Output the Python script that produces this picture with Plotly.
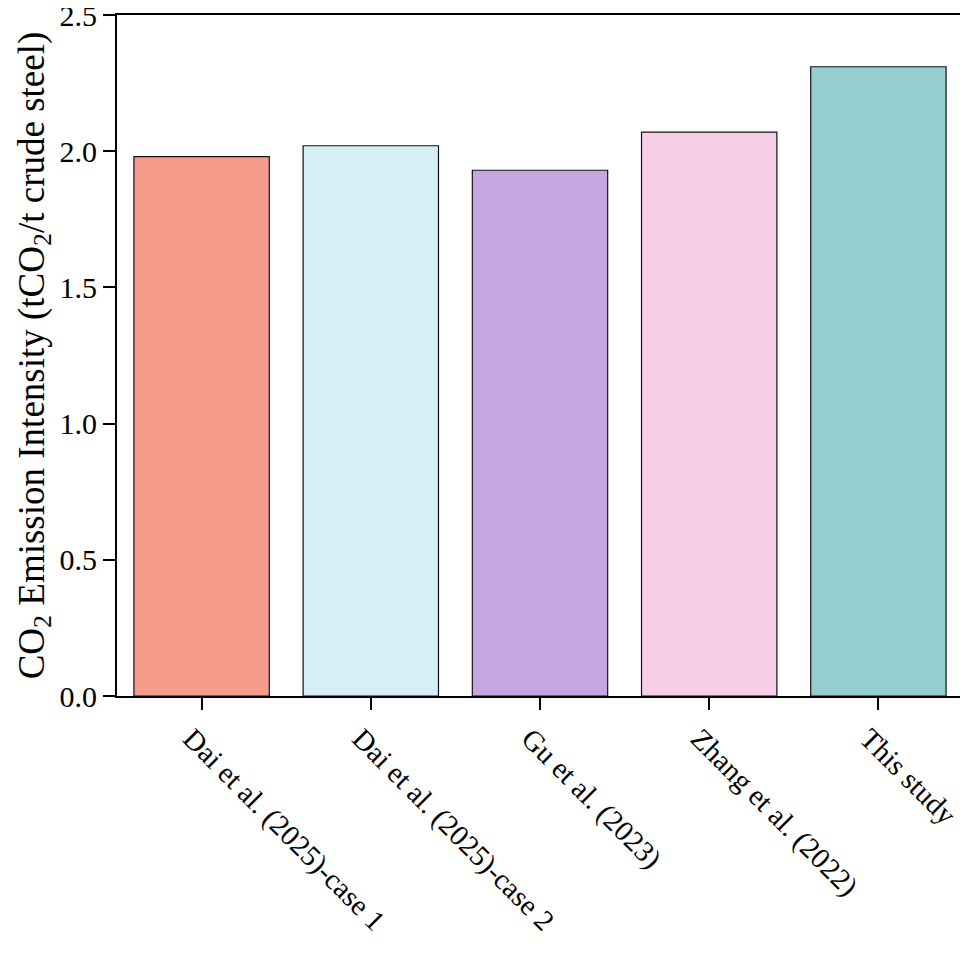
import plotly.graph_objects as go

categories = ["Dai et al. (2025)-case 1", "Dai et al. (2025)-case 2", "Gu et al. (2023)",
              "Zhang et al. (2022)", "This study"]
values = [1.98, 2.02, 1.93, 2.07, 2.31]
colors = ["#F69C8D", "#D6EEF6", "#C6A6DE", "#F6CEE7", "#96CECF"]
y_ticks = [0.0, 0.5, 1.0, 1.5, 2.0, 2.5]

font_family = "Liberation Serif, Times New Roman, serif"

fig = go.Figure(go.Bar(
    x=categories, y=values,
    marker=dict(color=colors, line=dict(color="#111111", width=1.2)),
    width=0.8,
))

# page body adds an 8px margin; figure sized so plot area lands where the reference has it
fig.update_layout(
    width=960, height=949,
    margin=dict(l=109, r=5, t=7, b=261),
    plot_bgcolor="white", paper_bgcolor="white",
    font=dict(family=font_family, size=30, color="black"),
    showlegend=False,
)
fig.update_xaxes(
    tickangle=45, showline=True, linecolor="black", linewidth=2, mirror=True,
    ticks="outside", ticklen=12, tickwidth=2, tickcolor="black",
    tickfont=dict(family=font_family, size=29), showgrid=False,
    range=[-0.5, 4.5], automargin=False, ticklabeloverflow="allow",
    ticklabelshift=-10,
)
fig.update_yaxes(
    range=[0, 2.5], tickvals=y_ticks, ticktext=[f"{v:.1f}" for v in y_ticks],
    showline=True, linecolor="black", linewidth=2, mirror=True,
    ticks="outside", ticklen=12, tickwidth=2, tickcolor="black",
    tickfont=dict(family=font_family, size=30), showgrid=False, zeroline=False,
    automargin=False, ticklabeloverflow="allow",
    title=dict(text="CO<sub>2</sub> Emission Intensity (tCO<sub>2</sub>/t crude steel)",
               font=dict(family=font_family, size=37), standoff=4),
)

fig.write_html(
    "out.html",
    post_script="document.querySelectorAll('svg.main-svg').forEach(function(s){s.style.overflow='visible';});",
)
